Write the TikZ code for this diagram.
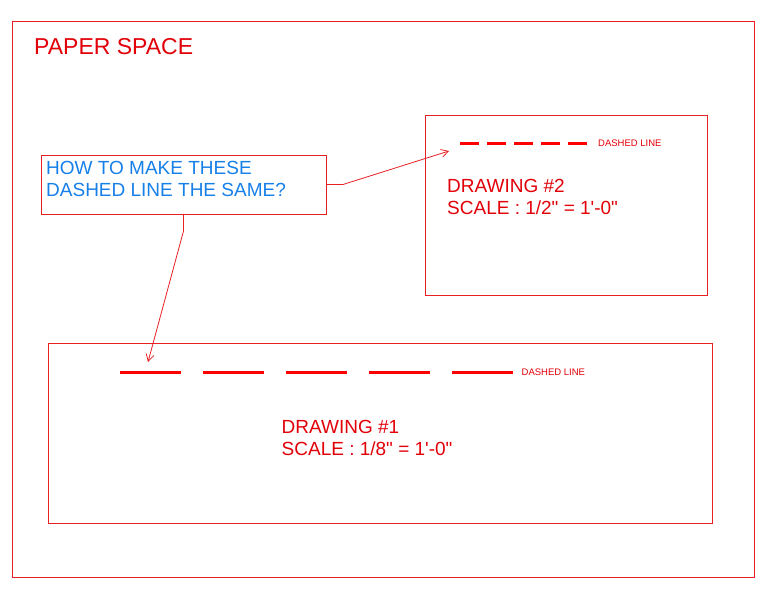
\documentclass[tikz,border=0pt]{standalone}
\usepackage{fontspec}
\setmainfont{Liberation Sans}
\usepackage{xcolor}
\usetikzlibrary{arrows.meta,positioning}

\definecolor{cadred}{RGB}{232,32,36}
\definecolor{txtred}{RGB}{226,0,8}
\definecolor{noteblue}{RGB}{22,128,232}

\newcommand{\qd}{\textquotedbl}
\newcommand{\qs}{\textquotesingle}

\begin{document}
\begin{tikzpicture}[
		x=1pt, y=-1pt,
		>={Straight Barb[length=7pt,width=8pt]},
		frame/.style={
			rectangle,
			draw=cadred,
			line width=0.9pt,
			anchor=north west,
			inner sep=0pt,
			outer sep=0pt
		},
		title/.style={
			anchor=base west,
			inner sep=0pt,
			text=txtred,
			font=\fontsize{19}{22}\selectfont,
			align=left
		},
		small/.style={
			anchor=base west,
			inner sep=0pt,
			text=txtred,
			font=\fontsize{9.5}{11}\selectfont
		},
		dashline/.style={
			draw=red,
			line width=3pt,
			line cap=butt
		},
		pointer/.style={
			draw=cadred,
			line width=0.8pt,
			->
		}
		]
		\useasboundingbox (0,0) rectangle (767,593);
		
		% We start by placing the frames
		\node [frame, minimum width=742, minimum height=556] (paper) at (12,21) {};
		\node [frame, minimum width=282, minimum height=180] (drawtwo) at (425,115) {};
		\node [frame, minimum width=664, minimum height=180] (drawone) at (48.5,343) {};
		\node [frame, minimum width=285, minimum height=59] (note) at (41,155) {};
		
		% texts (base = baseline of the last line)
		\node [title, font=\fontsize{23}{26}\selectfont] (papertxt) at (34,55) {PAPER SPACE};
		\node [title, text=noteblue] (notetxt) at (46,196.6) {HOW TO MAKE THESE\\DASHED LINE THE SAME?};
		\node [title] (twotxt) at (447,214.3) {DRAWING \#2\\SCALE : 1/2\qd{} = 1\qs{}-0\qd};
		\node [title] (onetxt) at (281.5,455) {DRAWING \#1\\SCALE : 1/8\qd{} = 1\qs{}-0\qd};
		
		% the dashed lines
		\coordinate (twostart) at (460,144);
		\coordinate (twoend) at (587,144);
		\coordinate (onestart) at (120,372.3);
		\coordinate (oneend) at (513,372.3);
		\draw [dashline, dash pattern=on 19pt off 8pt] (twostart) -- (twoend);
		\draw [dashline, dash pattern=on 61pt off 22pt] (onestart) -- (oneend);
		\node [small] (twolbl) at (598,147) {DASHED LINE};
		\node [small] (onelbl) at (521.5,375.3) {DASHED LINE};
		
		% leaders
		\coordinate (twotip) at (449,151);
		\coordinate (onetip) at (148,362);
		\draw [pointer] (note.east) -- ++(17,0) -- (twotip);
		\draw [pointer] (note.south) -- ++(0,17) -- (onetip);
		
\end{tikzpicture}
\end{document}
